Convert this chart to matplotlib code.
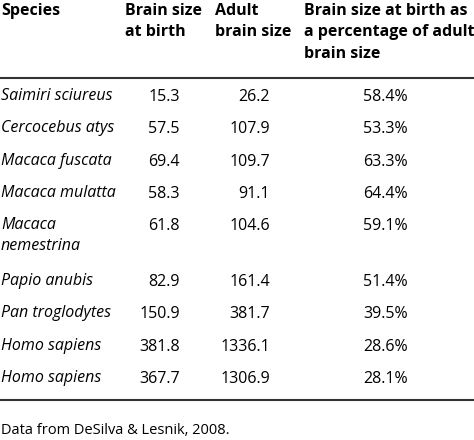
import matplotlib.pyplot as plt

species = ["Saimiri sciureus", "Cercocebus atys", "Macaca fuscata", "Macaca mulatta",
           "Macaca\nnemestrina", "Papio anubis", "Pan troglodytes", "Homo sapiens", "Homo sapiens"]
birth = ["15.3", "57.5", "69.4", "58.3", "61.8", "82.9", "150.9", "381.8", "367.7"]
adult = ["26.2", "107.9", "109.7", "91.1", "104.6", "161.4", "381.7", "1336.1", "1306.9"]
pct = ["58.4%", "53.3%", "63.3%", "64.4%", "59.1%", "51.4%", "39.5%", "28.6%", "28.1%"]
headers = ["Species", "Brain size\nat birth", "Adult\nbrain size",
           "Brain size at birth as\na percentage of adult\nbrain size"]

row_y = [97, 129, 162, 194, 226, 282, 314, 347, 379]

plt.rcParams['font.family'] = ['Open Sans', 'DejaVu Sans']
fig = plt.figure(figsize=(4.74, 4.4), dpi=100)
ax = fig.add_axes([0, 0, 1, 1])
ax.set_xlim(0, 474)
ax.set_ylim(440, 0)
ax.axis('off')

fs = 11.5
for x, h in zip([1, 125, 215, 304], headers):
    ax.text(x, 3, h, fontsize=fs, fontweight='bold', va='top', ha='left', linespacing=1.45)

ax.plot([0, 474], [78.5, 78.5], color='#333333', lw=1.5)
ax.plot([0, 474], [400, 400], color='#333333', lw=1.5)

for y, s, b, a, p in zip(row_y, species, birth, adult, pct):
    ax.text(1, y - 9, s, fontsize=fs, style='italic', va='top', ha='left', linespacing=1.4)
    ax.text(180, y, b, fontsize=fs, va='center', ha='right')
    ax.text(270, y, a, fontsize=fs, va='center', ha='right')
    ax.text(408, y, p, fontsize=fs, va='center', ha='right')

ax.text(1, 431, "Data from DeSilva & Lesnik, 2008.", fontsize=10.5, va='center', ha='left')

fig.savefig("out.png", dpi=100)
